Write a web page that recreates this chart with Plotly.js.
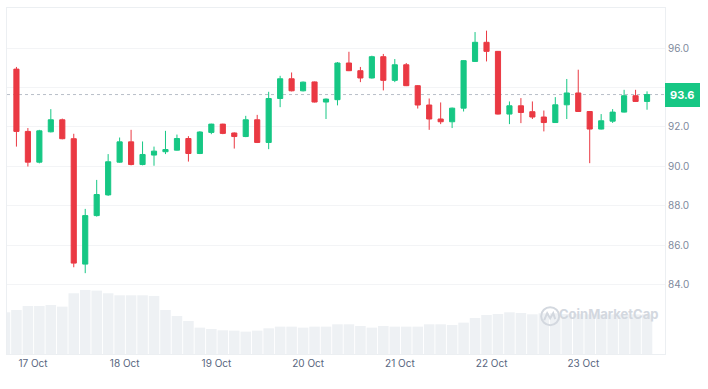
<!DOCTYPE html>
<html>
<head>
<meta charset="utf-8">
<script src="https://cdn.plot.ly/plotly-3.0.1.min.js"></script>
<style>
  html, body { margin: 0; padding: 0; background: #ffffff; }
  #chart { width: 708px; height: 389px; }
</style>
</head>
<body>
<div id="chart"></div>
<script>
// 3-hour candles, 16 Oct 19:40 -> 23 Oct 16:40
const candleTimes = [
  '2023-10-16 19:40','2023-10-16 22:40',
  '2023-10-17 01:40','2023-10-17 04:40','2023-10-17 07:40','2023-10-17 10:40','2023-10-17 13:40','2023-10-17 16:40','2023-10-17 19:40','2023-10-17 22:40',
  '2023-10-18 01:40','2023-10-18 04:40','2023-10-18 07:40','2023-10-18 10:40','2023-10-18 13:40','2023-10-18 16:40','2023-10-18 19:40','2023-10-18 22:40',
  '2023-10-19 01:40','2023-10-19 04:40','2023-10-19 07:40','2023-10-19 10:40','2023-10-19 13:40','2023-10-19 16:40','2023-10-19 19:40','2023-10-19 22:40',
  '2023-10-20 01:40','2023-10-20 04:40','2023-10-20 07:40','2023-10-20 10:40','2023-10-20 13:40','2023-10-20 16:40','2023-10-20 19:40','2023-10-20 22:40',
  '2023-10-21 01:40','2023-10-21 04:40','2023-10-21 07:40','2023-10-21 10:40','2023-10-21 13:40','2023-10-21 16:40','2023-10-21 19:40','2023-10-21 22:40',
  '2023-10-22 01:40','2023-10-22 04:40','2023-10-22 07:40','2023-10-22 10:40','2023-10-22 13:40','2023-10-22 16:40','2023-10-22 19:40','2023-10-22 22:40',
  '2023-10-23 01:40','2023-10-23 04:40','2023-10-23 07:40','2023-10-23 10:40','2023-10-23 13:40','2023-10-23 16:40'
];
const openP  = [94.93,91.77,90.21,91.75,92.36,91.40,85.04,87.50,88.55,90.21,91.24,90.09,90.57,90.74,90.82,91.41,90.65,91.72,92.14,91.69,
                91.51,92.36,91.21,93.44,94.44,93.83,94.28,93.26,93.38,95.24,94.85,94.48,95.56,94.36,95.15,94.09,93.11,92.40,92.26,92.95,
                95.32,96.29,95.83,92.65,93.07,92.77,92.50,92.22,93.12,93.72,92.78,91.89,92.29,92.75,93.58,93.29];
const highP  = [95.04,91.94,91.85,92.90,92.42,91.65,87.84,89.31,90.62,91.46,91.85,91.26,91.00,91.80,91.61,91.53,91.78,92.16,92.16,91.72,
                92.56,92.61,93.78,94.59,94.76,94.30,94.30,93.44,95.29,95.81,95.04,95.61,95.70,95.44,95.24,94.12,93.44,93.24,92.98,95.38,
                96.81,96.88,95.85,93.29,93.46,93.29,92.83,93.51,94.43,94.90,92.80,92.65,92.90,93.88,93.88,93.80];
const lowP   = [91.00,89.99,90.15,91.72,91.37,84.88,84.58,87.45,88.50,90.18,90.05,90.05,90.03,90.62,90.80,90.24,90.62,91.63,91.63,90.90,
                91.48,91.18,90.87,93.00,93.80,93.80,93.24,92.40,93.09,94.83,94.27,94.45,93.85,94.27,94.07,92.93,91.85,92.14,91.94,92.78,
                95.30,95.32,92.63,92.14,92.19,92.40,91.77,92.20,92.40,92.76,90.16,91.87,92.20,92.73,93.27,92.87];
const closeP = [91.77,90.21,91.80,92.36,91.40,85.09,87.50,88.57,90.23,91.24,90.09,90.60,90.77,90.85,91.41,90.65,91.74,92.14,91.67,91.51,
                92.36,91.21,93.44,94.44,93.83,94.27,93.26,93.41,95.24,94.85,94.48,95.56,94.36,95.15,94.09,93.11,92.40,92.26,92.95,95.36,
                96.29,95.83,92.65,93.07,92.73,92.50,92.22,93.12,93.72,92.78,91.89,92.31,92.75,93.58,93.29,93.64];

// volume bars (relative units), one extra bar before the first candle
const volumeTimes = ['2023-10-16 16:40'].concat(candleTimes);
const volumes = [125,
  132,144,144,147,142,182,192,190,182,176,176,176,174,132,114,99,79,75,71,70,
  67,70,77,82,82,79,82,82,89,89,84,79,84,82,82,82,89,89,87,94,
  108,117,120,125,123,119,122,122,120,120,119,119,119,119,119,119];

// 94.0 gridline is kept; its label is hidden behind the current-price tag
const priceTicks = [84, 86, 88, 90, 92, 94, 96];
const priceTickText = ['84.0', '86.0', '88.0', '90.0', '92.0', '', '96.0'];

const GREEN = '#16c784', RED = '#ea3943';
const lastClose = closeP[closeP.length - 1];

const traces = [
  {
    type: 'bar', x: volumeTimes, y: volumes, yaxis: 'y', xaxis: 'x',
    marker: { color: '#eef1f4', line: { width: 0 } },
    hoverinfo: 'skip'
  },
  {
    type: 'candlestick', x: candleTimes, open: openP, high: highP, low: lowP, close: closeP,
    xaxis: 'x', yaxis: 'y2',
    increasing: { line: { color: GREEN, width: 1 }, fillcolor: GREEN },
    decreasing: { line: { color: RED, width: 1 }, fillcolor: RED },
    whiskerwidth: 0
  }
];

const layout = {
  width: 708, height: 389,
  margin: { l: 7, r: 43, t: 8, b: 35 },
  paper_bgcolor: '#ffffff', plot_bgcolor: '#ffffff',
  showlegend: false,
  font: { family: 'Inter, "Noto Sans", sans-serif', color: '#616e85' },
  bargap: 0.08,
  boxgap: 0.36,
  xaxis: {
    type: 'date',
    range: ['2023-10-16 17:12', '2023-10-23 21:22'],
    rangeslider: { visible: false },
    tick0: '2023-10-17', dtick: 86400000, tickformat: '%-d %b',
    showgrid: false, zeroline: false,
    showline: true, mirror: true, linecolor: '#eceff2', linewidth: 1,
    ticks: '', tickfont: { size: 10, color: '#58667e' }
  },
  yaxis: {
    range: [0, 1037], visible: false, fixedrange: true
  },
  yaxis2: {
    overlaying: 'y', side: 'right',
    range: [80.48, 98.03],
    tickmode: 'array', tickvals: priceTicks, ticktext: priceTickText,
    showgrid: true, gridcolor: '#f3f4f6', gridwidth: 1,
    zeroline: false, showline: true, mirror: true, linecolor: '#eceff2', linewidth: 1,
    ticks: '', tickfont: { size: 10, color: '#808a9d' }
  },
  shapes: [
    {
      type: 'line', xref: 'paper', x0: 0, x1: 1, yref: 'y2', y0: lastClose, y1: lastClose,
      line: { color: '#b8bec8', width: 1, dash: 'dot' }, layer: 'below'
    },
    {
      type: 'circle', xref: 'paper', yref: 'paper', xsizemode: 'pixel', ysizemode: 'pixel',
      xanchor: 0.8255, yanchor: 0.1093, x0: -9, x1: 9, y0: -9, y1: 9,
      line: { color: '#d3d8df', width: 2 }, layer: 'above'
    },
    {
      type: 'path', xref: 'paper', yref: 'paper', xsizemode: 'pixel', ysizemode: 'pixel',
      xanchor: 0.8255, yanchor: 0.1093,
      path: 'M -6 -4 L -3 3 L 0 -2 L 3 3 L 5 -3',
      line: { color: '#d3d8df', width: 2 }, layer: 'above'
    }
  ],
  annotations: [
    {
      xref: 'paper', x: 1, xanchor: 'left', yref: 'y2', y: lastClose, yanchor: 'middle',
      text: '<b>' + lastClose.toFixed(1) + '</b>', showarrow: false,
      bgcolor: GREEN, bordercolor: GREEN, borderpad: 4,
      font: { size: 11, color: '#ffffff' }
    },
    {
      xref: 'paper', yref: 'paper', x: 0.9147, y: 0.117, xanchor: 'center', yanchor: 'middle',
      text: '<b>CoinMarketCap</b>', showarrow: false,
      font: { size: 13, color: '#d3d8df' }
    }
  ]
};

Plotly.newPlot('chart', traces, layout, { displayModeBar: false, staticPlot: true });
</script>
</body>
</html>
